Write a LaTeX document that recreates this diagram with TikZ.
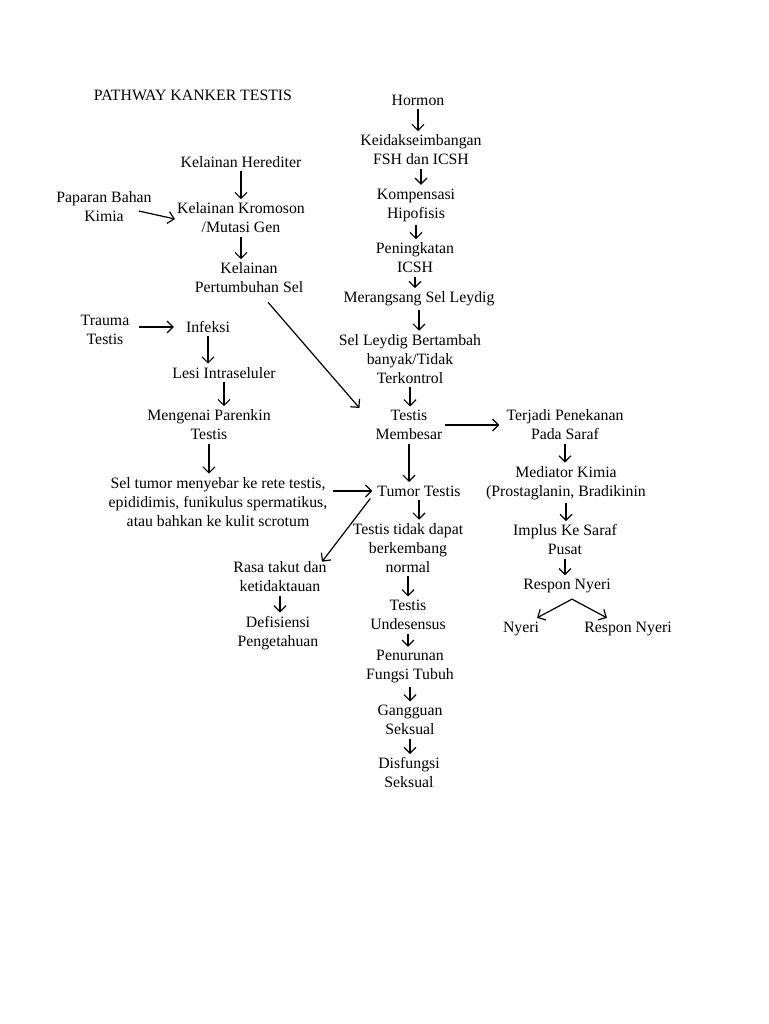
\documentclass[tikz,border=0pt]{standalone}
\usepackage{fontspec}
\setmainfont{Liberation Serif}
\usetikzlibrary{arrows.meta}

\begin{document}
\begin{tikzpicture}[x=1pt,y=-1pt,
	every node/.style={align=center,inner sep=2pt,font=\fontsize{15.8}{19}\rmfamily\selectfont},
	arr/.style={-{Straight Barb[length=6pt,width=12pt]},line width=1.2pt}]

	\useasboundingbox[fill=white] (0,0) rectangle (768,1024);

	\node (title) at (193,95) {PATHWAY KANKER TESTIS};

	% kolom kanan atas
	\node (hormon) at (418,100) {Hormon};
	\node (keidak) at (421,150) {Keidakseimbangan\\FSH dan ICSH};
	\node (kompen) at (416,205) {Kompensasi\\Hipofisis};
	\node (icsh) at (415,258) {Peningkatan\\ICSH};
	\node (leydig) at (419,299) {Merangsang Sel Leydig};
	\node (tambah) at (410,359) {Sel Leydig Bertambah\\banyak/Tidak\\Terkontrol};
	\node (besar) at (409,425) {Testis\\Membesar};

	% kolom kiri
	\node (hered) at (241,162) {Kelainan Herediter};
	\node (kimia) at (104,207) {Paparan Bahan\\Kimia};
	\node (kromo) at (241,218) {Kelainan Kromoson\\/Mutasi Gen};
	\node (tumbuh) at (249,278) {Kelainan\\Pertumbuhan Sel};
	\node (trauma) at (105,330) {Trauma\\Testis};
	\node (infeksi) at (208,327) {Infeksi};
	\node (lesi) at (224,373) {Lesi Intraseluler};
	\node (paren) at (209,425) {Mengenai Parenkin\\Testis};
	\node (sebar) at (218,502) {Sel tumor menyebar ke rete testis,\\epididimis, funikulus spermatikus,\\atau bahkan ke kulit scrotum};
	\node (takut) at (280,577) {Rasa takut dan\\ketidaktauan};
	\node (defis) at (278,633) {Defisiensi\\Pengetahuan};

	% kolom tengah bawah
	\node (tumor) at (419,491) {Tumor Testis};
	\node (tidak) at (408,548) {Testis tidak dapat\\berkembang\\normal};
	\node (undes) at (408,615) {Testis\\Undesensus};
	\node (fungsi) at (410,667) {Penurunan\\Fungsi Tubuh};
	\node (ganggu) at (410,720) {Gangguan\\Seksual};
	\node (disf) at (409,773) {Disfungsi\\Seksual};

	% kolom nyeri
	\node (tekan) at (565,425) {Terjadi Penekanan\\Pada Saraf};
	\node (media) at (566,483) {Mediator Kimia\\(Prostaglanin, Bradikinin};
	\node (implus) at (565,540) {Implus Ke Saraf\\Pusat};
	\node (respon) at (567,586) {Respon Nyeri};
	\node (nyeri) at (521,629) {Nyeri};
	\node (respon2) at (628,629) {Respon Nyeri};

	\foreach \a/\b in {hormon/keidak,keidak/kompen,kompen/icsh,icsh/leydig,leydig/tambah,
		tambah/besar,besar/tumor,tumor/tidak,tidak/undes,undes/fungsi,fungsi/ganggu,ganggu/disf,
		hered/kromo,kromo/tumbuh,infeksi/lesi,lesi/paren,paren/sebar,takut/defis,
		tekan/media,media/implus,implus/respon}
		\draw[arr,shorten <=1.5pt,shorten >=1.5pt] (\a.south) -- (\a.south |- \b.north);

	\draw[arr] ([xshift=-15pt,yshift=-4pt]kimia.east) -- ([yshift=-1pt]kromo.west);
	\draw[arr,shorten >=10pt] ([xshift=8pt]trauma.east |- infeksi.west) -- (infeksi.west);
	\draw[arr] ([xshift=19pt,yshift=-7pt]tumbuh.south) -- ([xshift=-14pt]besar.north west);
	\draw[arr,shorten >=5pt] (besar.east) -- (besar.east -| tekan.west);
	\draw[arr,shorten >=3pt] ([xshift=4pt]sebar.east |- tumor.west) -- (tumor.west);
	\draw[arr] ([xshift=-5pt]tumor.south west) -- ([xshift=42pt,yshift=-2pt]takut.north);
	\draw[arr] ([xshift=5pt,yshift=-4pt]respon.south) -- ([xshift=16pt,yshift=2pt]nyeri.north);
	\draw[arr] ([xshift=5pt,yshift=-4pt]respon.south) -- ([xshift=-21pt,yshift=2pt]respon2.north);

\end{tikzpicture}
\end{document}
